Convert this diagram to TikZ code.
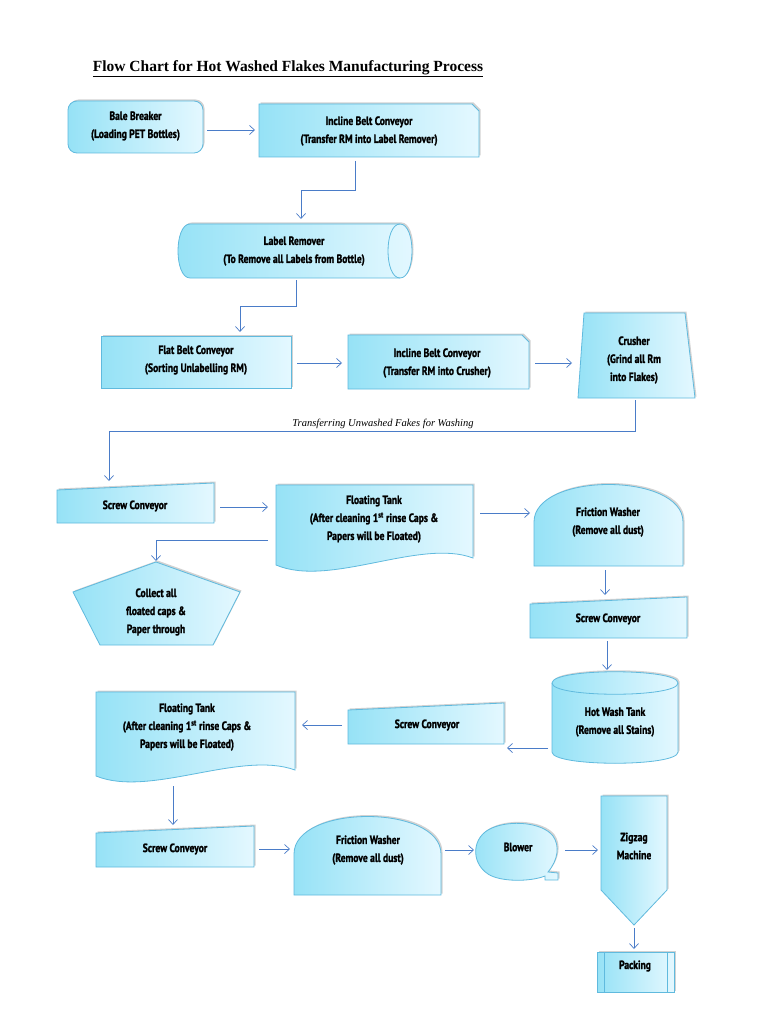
\documentclass[tikz,border=0pt]{standalone}
\usepackage{fontspec}
\setmainfont{Liberation Serif}
\newfontfamily\cf[FakeStretch=0.8,FakeBold=1.5]{PT Sans}
\usetikzlibrary{arrows.meta,shadows}
\definecolor{fillA}{RGB}{150,226,246}
\definecolor{fillB}{RGB}{228,248,255}
\definecolor{bord}{RGB}{96,186,222}
\definecolor{arr}{RGB}{74,124,200}
\tikzset{
  box/.style={left color=fillA,right color=fillB,draw=bord,line width=0.8pt,
    drop shadow={shadow xshift=1.5pt,shadow yshift=1.5pt,opacity=0.35}},
  lbl/.style={font=\cf\bfseries\fontsize{12}{18}\selectfont,align=center,text=black},
  con/.style={draw=arr,line width=0.7pt,-{Straight Barb[length=5pt,width=9pt]}},
}
\begin{document}
\begin{tikzpicture}[x=1pt,y=-1pt]
\useasboundingbox[fill=white] (0,0) rectangle (768,1024);
\node (title) at (288,69) {\bfseries\fontsize{15.5}{18}\selectfont\underline{Flow Chart for Hot Washed Flakes Manufacturing Process}};
% shapes
\path[box,rounded corners=9] (68,101) rectangle (203,153);
\node[lbl] (bale) at (135.5,126) {Bale Breaker\\(Loading PET Bottles)};
\path[box] (259,104)--(472,104)--(479,111)--(479,157)--(259,157)--cycle;
\node[lbl] (inc1) at (369,131) {Incline Belt Conveyor\\(Transfer RM into Label Remover)};
\path[box] (190,224)--(400,224) .. controls (416,224) and (416,278) .. (400,278)--(190,278) .. controls (174,278) and (174,224) .. (190,224)--cycle;
\draw[bord,line width=0.8pt] (400,224) .. controls (384,224) and (384,278) .. (400,278);
\node[lbl] (lr) at (294,251) {Label Remover\\(To Remove all Labels from Bottle)};
\path[box] (101,336) rectangle (291,388);
\node[lbl] (flat) at (196,360) {Flat Belt Conveyor\\(Sorting Unlabelling RM)};
\path[box] (348,335)--(522,335)--(529,342)--(529,389)--(348,389)--cycle;
\node[lbl] (inc2) at (437,363) {Incline Belt Conveyor\\(Transfer RM into Crusher)};
\path[box] (584,313)--(685,313)--(695,398)--(578,398)--cycle;
\node[lbl] (crush) at (634,360) {Crusher\\(Grind all Rm\\into Flakes)};
\path[box] (57,490)--(214,483)--(214,523)--(57,523)--cycle;
\node[lbl] (sc1) at (135,506) {Screw Conveyor};
\path[box] (276,485)--(473,485)--(473,558) .. controls (420,538) and (330,588) .. (276,565)--cycle;
\node[lbl] (ft1) at (374,519) {Floating Tank\\(After cleaning 1\textsuperscript{st} rinse Caps \&\\Papers will be Floated)};
\path[box] (534,566)--(534,522) .. controls (534,472) and (683,472) .. (683,522)--(683,566)--cycle;
\node[lbl] (fw1) at (608,522) {Friction Washer\\(Remove all dust)};
\path[box] (156,562)--(240,592)--(213,645)--(100,645)--(73,592)--cycle;
\node[lbl] (coll) at (156,612) {Collect all\\floated caps \&\\Paper through};
\path[box] (530,604)--(687,597)--(687,638)--(530,638)--cycle;
\node[lbl] (sc2) at (608,619) {Screw Conveyor};
\path[box] (552,683)--(552,752) .. controls (552,767) and (678,767) .. (678,752)--(678,683) .. controls (678,668) and (552,668) .. (552,683)--cycle;
\draw[bord,line width=0.8pt] (552,683) .. controls (552,698) and (678,698) .. (678,683);
\node[lbl] (hw) at (615,722) {Hot Wash Tank\\(Remove all Stains)};
\path[box] (348,710)--(504,703)--(504,744)--(348,744)--cycle;
\node[lbl] (sc3) at (427,725) {Screw Conveyor};
\path[box] (96,692)--(295,692)--(295,770) .. controls (240,750) and (150,798) .. (96,776)--cycle;
\node[lbl] (ft2) at (187,727) {Floating Tank\\(After cleaning 1\textsuperscript{st} rinse Caps \&\\Papers will be Floated)};
\path[box] (96,833)--(254,826)--(254,867)--(96,867)--cycle;
\node[lbl] (sc4) at (175,849) {Screw Conveyor};
\path[box] (294,895)--(294,854) .. controls (294,804) and (441,804) .. (441,854)--(441,895)--cycle;
\node[lbl] (fw2) at (368,850) {Friction Washer\\(Remove all dust)};
\path[box] (545,876) .. controls (530,882) and (500,882) .. (488,874) .. controls (470,862) and (472,836) .. (492,828) .. controls (510,820) and (542,822) .. (553,836) .. controls (560,846) and (558,860) .. (548,872)--(558,873)--(558,880)--(545,880)--cycle;
\node[lbl] (blow) at (518,847) {Blower};
\path[box] (601,796)--(667,796)--(667,890)--(634,925)--(601,890)--cycle;
\node[lbl] (zz) at (634,846) {Zigzag\\Machine};
\path[box] (597,952) rectangle (674,992);
\draw[bord,line width=0.8pt] (604,952)--(604,992) (667,952)--(667,992);
\node[lbl] (pack) at (635,966) {Packing};
% coordinates
\coordinate (a1) at (207,130); \coordinate (a2) at (255,130);
\coordinate (b1) at (355,161); \coordinate (b2) at (355,190); \coordinate (b3) at (301,190); \coordinate (b4) at (301,219);
\coordinate (c1) at (296,280); \coordinate (c2) at (296,306); \coordinate (c3) at (240,306); \coordinate (c4) at (240,332);
\coordinate (d1) at (297,363); \coordinate (d2) at (342,363);
\coordinate (e1) at (535,363); \coordinate (e2) at (572,363);
\coordinate (f1) at (635,400); \coordinate (f2) at (635,431); \coordinate (f3) at (109,431); \coordinate (f4) at (109,481);
\coordinate (g1) at (220,507); \coordinate (g2) at (268,507);
\coordinate (h1) at (480,513); \coordinate (h2) at (530,513);
\coordinate (i1) at (268,540); \coordinate (i2) at (156,540); \coordinate (i3) at (156,561);
\coordinate (j1) at (605,570); \coordinate (j2) at (605,595);
\coordinate (k1) at (607,641); \coordinate (k2) at (607,670);
\coordinate (l1) at (548,748); \coordinate (l2) at (507,748);
\coordinate (m1) at (342,725); \coordinate (m2) at (302,725);
\coordinate (n1) at (173,786); \coordinate (n2) at (173,825);
\coordinate (o1) at (259,849); \coordinate (o2) at (290,849);
\coordinate (p1) at (445,850); \coordinate (p2) at (474,850);
\coordinate (q1) at (565,850); \coordinate (q2) at (598,850);
\coordinate (r1) at (634,928); \coordinate (r2) at (634,949);
\draw[con] (a1)--(a2);
\draw[con] (b1)--(b2)--(b3)--(b4);
\draw[con] (c1)--(c2)--(c3)--(c4);
\draw[con] (d1)--(d2);
\draw[con] (e1)--(e2);
\draw[con] (f1)--(f2)--(f3)--(f4);
\node[font=\itshape\fontsize{10.5}{12}\selectfont,anchor=south] (tlab) at (383,432) {Transferring Unwashed Fakes for Washing};
\draw[con] (g1)--(g2);
\draw[con] (h1)--(h2);
\draw[con] (i1)--(i2)--(i3);
\draw[con] (j1)--(j2);
\draw[con] (k1)--(k2);
\draw[con] (l1)--(l2);
\draw[con] (m1)--(m2);
\draw[con] (n1)--(n2);
\draw[con] (o1)--(o2);
\draw[con] (p1)--(p2);
\draw[con] (q1)--(q2);
\draw[con] (r1)--(r2);
\end{tikzpicture}
\end{document}
